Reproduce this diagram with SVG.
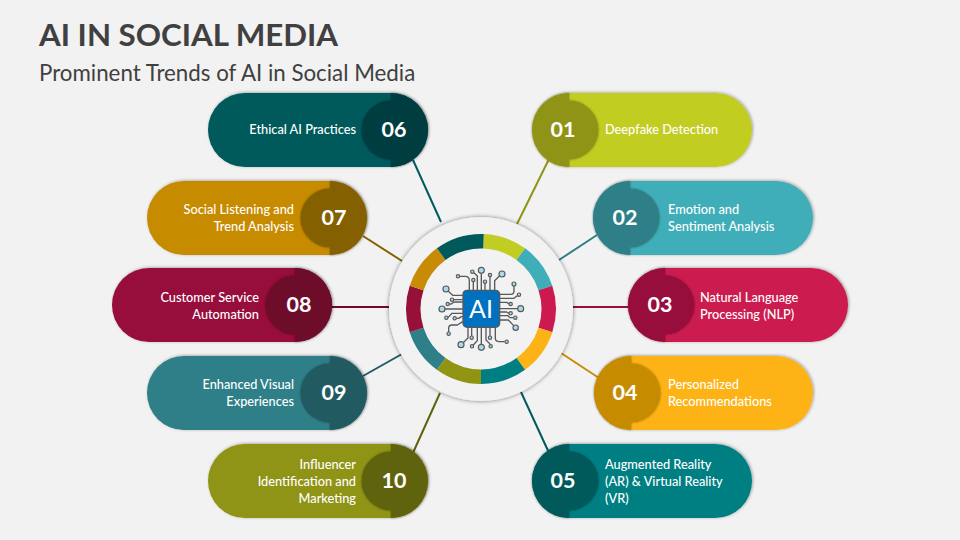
<svg xmlns="http://www.w3.org/2000/svg" width="960" height="540" viewBox="0 0 960 540">
<style>
text{font-family:"Lato","Liberation Sans",sans-serif}
.t{font-size:12.75px;fill:#fff;font-weight:500}
.e{text-anchor:end}
.n{font-size:21.5px;font-weight:700;fill:#fff;text-anchor:middle}
.c{fill:none;stroke-width:2}
.p{filter:url(#sh)}
.d{filter:url(#sd)}
.tr{fill:none;stroke:#58595b;stroke-width:4;stroke-linejoin:round}
.nd{fill:#a8dce8;stroke:#58595b;stroke-width:3.5}
</style>
<defs>
<filter id="sh" x="-10%" y="-20%" width="120%" height="140%"><feDropShadow dx="1" dy="-0.5" stdDeviation="1.5" flood-color="#000" flood-opacity=".35"/></filter>
<filter id="sd" x="-20%" y="-20%" width="140%" height="140%"><feDropShadow dx="0" dy="0" stdDeviation="1" flood-color="#000" flood-opacity=".4"/></filter>
<filter id="sc" x="-10%" y="-10%" width="120%" height="120%"><feDropShadow dx="0" dy="0" stdDeviation="2" flood-color="#000" flood-opacity=".5"/></filter>
</defs>
<rect width="960" height="540" fill="#f2f2f2"/>
<text x="39" y="46" font-size="31.3" font-weight="700" fill="#404040">AI IN SOCIAL MEDIA</text>
<text x="39" y="81" font-size="22.3" fill="#404040">Prominent Trends of AI in Social Media</text>

<g id="connectors">
<path class="c" stroke="#8f9413" d="M549,159L517,224"/>
<path class="c" stroke="#2e7f88" d="M597,235L559,260"/>
<path class="c" stroke="#97103a" d="M573,307H630"/>
<path class="c" stroke="#c78b06" d="M561,353L599,378"/>
<path class="c" stroke="#005a5c" d="M521,392L550,455"/>
<path class="c" stroke="#005a5c" d="M413,160L441,222"/>
<path class="c" stroke="#856000" d="M363,236L402,261"/>
<path class="c" stroke="#6e0a2a" d="M332,307H389"/>
<path class="c" stroke="#205a62" d="M402,354L363,376"/>
<path class="c" stroke="#5f630b" d="M440,393L412,455"/>
</g>

<g id="hub">
<circle cx="481" cy="309" r="92" fill="#f2f2f2" filter="url(#sc)"/>
<g fill="none" stroke-width="14.500">
<path stroke="#c2cd23" d="M483.500,241.300A67.7,67.7 0 0 1 520.8,254.2"/>
<path stroke="#3faeb9" d="M520.8,254.2A67.7,67.7 0 0 1 545.4,288.1"/>
<path stroke="#cc1a50" d="M545.4,288.1A67.7,67.7 0 0 1 545.4,329.9"/>
<path stroke="#fdb316" d="M545.4,329.9A67.7,67.7 0 0 1 520.8,363.8"/>
<path stroke="#007f83" d="M520.8,363.8A67.7,67.7 0 0 1 481,376.7"/>
<path stroke="#8f9413" d="M481,376.7A67.7,67.7 0 0 1 441.2,363.8"/>
<path stroke="#2e7f88" d="M441.2,363.8A67.7,67.7 0 0 1 416.6,329.9"/>
<path stroke="#97103a" d="M416.6,329.9A67.7,67.7 0 0 1 416.6,288.1"/>
<path stroke="#c78b06" d="M416.6,288.1A67.7,67.7 0 0 1 441.2,254.2"/>
<path stroke="#005a5c" d="M441.2,254.2A67.7,67.7 0 0 1 483.500,241.300"/>
</g>
<g transform="translate(380,210) scale(.3333)">
<path class="tr" d="M268,240V212Q268,199 256,199H240M282,188L292,198V240M280,215V240M304,190V240M315,220V240M330,200V240M358,198L344,212V240M402,228V243Q402,253 392,253H360M412,257L402,265H360M387,282L380,277H360M413,296H360M387,310L380,306H360M401,323H390L384,317H360M401,347L385,330H360M374,395H358Q346,395 346,385V353M332,404L318,390V353M330,378V353M304,403V353M275,378V353M280,405L292,392V353M250,398L264,384V353M205,244L218,256H248M221,269H248M208,282H214L222,276H248M195,297H248M204,323L216,310H248M229,325H236L244,320H248M206,366V355Q206,345 216,345H232L248,335"/>
<circle class="nd" cx="234" cy="199" r="5"/><circle class="nd" cx="277" cy="185" r="5"/><circle class="nd" cx="280" cy="210" r="5"/><circle class="nd" cx="304" cy="181" r="9"/><circle class="nd" cx="315" cy="215" r="5"/><circle class="nd" cx="330" cy="195" r="5"/><circle class="nd" cx="366" cy="192" r="9"/>
<circle class="nd" cx="402" cy="222" r="6"/><circle class="nd" cx="417" cy="254" r="5"/><circle class="nd" cx="392" cy="282" r="5"/><circle class="nd" cx="422" cy="296" r="9"/><circle class="nd" cx="392" cy="310" r="5"/><circle class="nd" cx="406" cy="323" r="5"/><circle class="nd" cx="407" cy="353" r="8"/>
<circle class="nd" cx="380" cy="395" r="5"/><circle class="nd" cx="332" cy="409" r="5"/><circle class="nd" cx="330" cy="383" r="5"/><circle class="nd" cx="304" cy="412" r="9"/><circle class="nd" cx="275" cy="383" r="5"/><circle class="nd" cx="276" cy="409" r="5"/><circle class="nd" cx="243" cy="404" r="9"/>
<circle class="nd" cx="198" cy="237" r="9"/><circle class="nd" cx="216" cy="269" r="5"/><circle class="nd" cx="203" cy="282" r="5"/><circle class="nd" cx="186" cy="297" r="9"/><circle class="nd" cx="199" cy="323" r="5"/><circle class="nd" cx="224" cy="325" r="5"/><circle class="nd" cx="206" cy="371" r="5"/>
<rect x="249" y="241" width="110" height="111" rx="12" fill="#0070c0" stroke="#58595b" stroke-width="4"/>
</g>
<text x="481" y="318" font-size="25" fill="#fff" text-anchor="middle" font-weight="400">AI</text>
</g>

<g id="node-01"><rect class="p" x="532" y="93" width="220" height="74" rx="37" fill="#c2cd23"/><path class="d" fill="#8f9413" d="M569,93A37,37 0 0 0 569,167V159.5A29.5,29.5 0 0 0 569,100.5Z"/><text class="n" x="563" y="137">01</text><text class="t" x="605" y="134">Deepfake Detection</text></g>
<g id="node-02"><rect class="p" x="593" y="181" width="220" height="74" rx="37" fill="#3faeb9"/><path class="d" fill="#2e7f88" d="M630,181A37,37 0 0 0 630,255V247.500A29.5,29.500 0 0 0 630,188.500Z"/><text class="n" x="625" y="225">02</text><text class="t" x="668" y="214">Emotion and</text><text class="t" x="668" y="231">Sentiment Analysis</text></g>
<g id="node-03"><rect class="p" x="628" y="268" width="220" height="74" rx="37" fill="#cc1a50"/><path class="d" fill="#97103a" d="M665,268A37,37 0 0 0 665,342V334.500A29.5,29.500 0 0 0 665,275.500Z"/><text class="n" x="660" y="312">03</text><text class="t" x="700" y="302">Natural Language</text><text class="t" x="700" y="319">Processing (NLP)</text></g>
<g id="node-04"><rect class="p" x="594" y="356" width="219" height="74" rx="37" fill="#fdb316"/><path class="d" fill="#c78b06" d="M631,356A37,37 0 0 0 631,430V422.500A29.5,29.500 0 0 0 631,363.500Z"/><text class="n" x="625" y="400">04</text><text class="t" x="668" y="389">Personalized</text><text class="t" x="668" y="406">Recommendations</text></g>
<g id="node-05"><rect class="p" x="532" y="444" width="220" height="74" rx="37" fill="#007f83"/><path class="d" fill="#005a5c" d="M569,444A37,37 0 0 0 569,518V510.500A29.5,29.500 0 0 0 569,451.500Z"/><text class="n" x="563" y="488">05</text><text class="t" x="605" y="469">Augmented Reality</text><text class="t" x="605" y="486">(AR) &amp; Virtual Reality</text><text class="t" x="605" y="503">(VR)</text></g>
<g id="node-06"><rect class="p" x="208" y="93" width="220" height="74" rx="37" fill="#005a5c"/><path class="d" fill="#003d40" d="M391,93A37,37 0 0 1 391,167V159.5A29.5,29.500 0 0 1 391,100.5Z"/><text class="n" x="394" y="137">06</text><text class="t e" x="356" y="134">Ethical AI Practices</text></g>
<g id="node-07"><rect class="p" x="147" y="181" width="220" height="74" rx="37" fill="#c78b06"/><path class="d" fill="#856000" d="M330,181A37,37 0 0 1 330,255V247.500A29.5,29.500 0 0 1 330,188.500Z"/><text class="n" x="334" y="225">07</text><text class="t e" x="294" y="214">Social Listening and</text><text class="t e" x="294" y="231">Trend Analysis</text></g>
<g id="node-08"><rect class="p" x="112" y="268" width="220" height="74" rx="37" fill="#97103a"/><path class="d" fill="#6e0a2a" d="M295,268A37,37 0 0 1 295,342V334.500A29.5,29.500 0 0 1 295,275.500Z"/><text class="n" x="299" y="312">08</text><text class="t e" x="259" y="302">Customer Service</text><text class="t e" x="259" y="319">Automation</text></g>
<g id="node-09"><rect class="p" x="147" y="356" width="220" height="74" rx="37" fill="#2e7f88"/><path class="d" fill="#205a62" d="M330,356A37,37 0 0 1 330,430V422.500A29.5,29.500 0 0 1 330,363.500Z"/><text class="n" x="334" y="400">09</text><text class="t e" x="294" y="389">Enhanced Visual</text><text class="t e" x="294" y="406">Experiences</text></g>
<g id="node-10"><rect class="p" x="208" y="444" width="220" height="74" rx="37" fill="#8f9413"/><path class="d" fill="#5f630b" d="M391,444A37,37 0 0 1 391,518V510.500A29.5,29.500 0 0 1 391,451.500Z"/><text class="n" x="394" y="488">10</text><text class="t e" x="356" y="469">Influencer</text><text class="t e" x="356" y="486">Identification and</text><text class="t e" x="356" y="503">Marketing</text></g>
</svg>
